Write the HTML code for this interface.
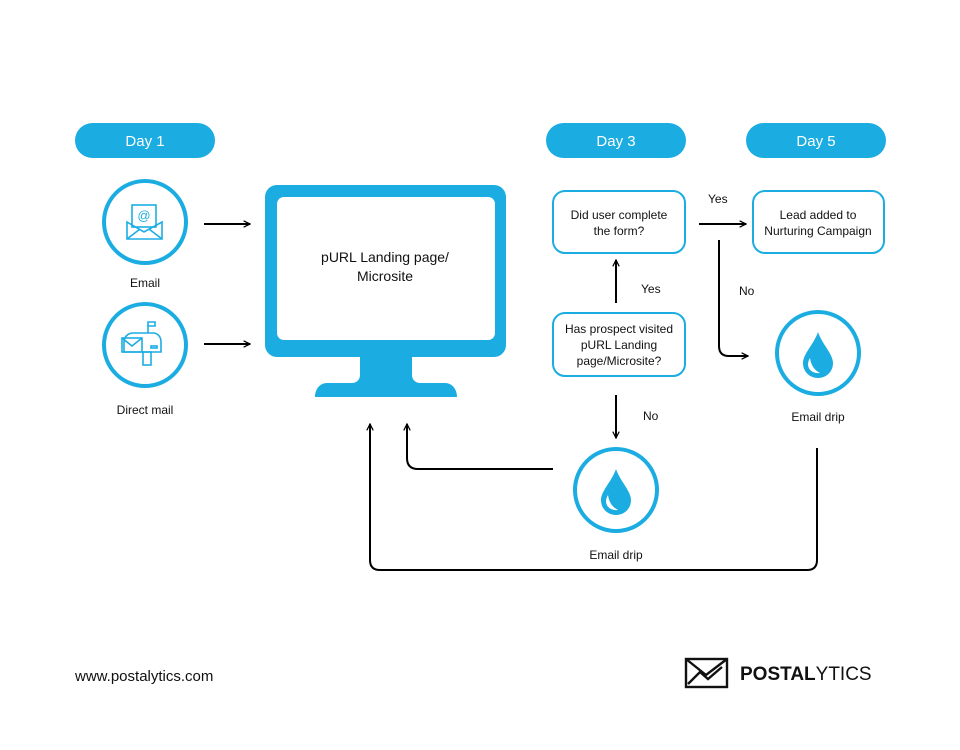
<!DOCTYPE html>
<html><head><meta charset="utf-8"><style>
html,body{margin:0;padding:0;background:#fff}
svg{display:block}
text{font-family:"Liberation Sans",sans-serif;fill:#111}
</style></head><body>
<svg width="960" height="750" viewBox="0 0 960 750" xmlns="http://www.w3.org/2000/svg">
<defs>
<marker id="ah" viewBox="0 0 10 10" refX="9" refY="5" markerWidth="8" markerHeight="8" markerUnits="userSpaceOnUse" orient="auto">
<path d="M1,1 L9,5 L1,9" fill="none" stroke="#000" stroke-width="1.6"/>
</marker>
<g id="drop">
<path d="M0,-22 C4,-10 15,0 15,9 C15,18 8,24 0,24 C-8,24 -15,18 -15,9 C-15,0 -4,-10 0,-22 Z" fill="#1badE2"/>
<path d="M-8,4 C-13,12 -8,20 2,19 C-4,16 -7,11 -8,4 Z" fill="#fff"/>
</g>
</defs>
<g fill="#1badE2">
<rect x="75" y="123" width="140" height="35" rx="17.5"/>
<rect x="546" y="123" width="140" height="35" rx="17.5"/>
<rect x="746" y="123" width="140" height="35" rx="17.5"/>
</g>
<g font-size="15" text-anchor="middle">
<text x="145" y="146" style="fill:#fff">Day 1</text>
<text x="616" y="146" style="fill:#fff">Day 3</text>
<text x="816" y="146" style="fill:#fff">Day 5</text>
</g>
<g fill="none" stroke="#1badE2" stroke-width="4">
<circle cx="145" cy="222" r="41"/>
<circle cx="145" cy="345" r="41"/>
<circle cx="616" cy="490" r="41"/>
<circle cx="818" cy="353" r="41"/>
</g>
<g fill="none" stroke="#1badE2" stroke-width="1.6">
<rect x="132" y="205" width="24" height="22"/>
<path d="M127,222 L127,239 L162,239 L162,222 L144,232 Z"/>
<path d="M127,239 L140,229 M162,239 L149,229"/>
</g>
<text x="144" y="220" font-size="13" text-anchor="middle" style="fill:#1badE2">@</text>
<g fill="none" stroke="#1badE2" stroke-width="1.6">
<path d="M133,333 L153,333 C158,333 161,337 161,342 L161,352 L124,352 L124,342 C124,337 128,333 133,333 Z"/>
<rect x="122" y="338" width="20" height="14"/>
<path d="M122,338 L132,346 L142,338"/>
<path d="M148,333 L148,322 L155,322 L155,326 L148,326"/>
<rect x="151" y="346" width="6" height="2"/>
<rect x="143" y="352" width="8" height="13"/>
</g>
<g font-size="12" text-anchor="middle">
<text x="145" y="287">Email</text>
<text x="145" y="414">Direct mail</text>
<text x="616" y="559">Email drip</text>
<text x="818" y="421">Email drip</text>
</g>
<use href="#drop" x="616" y="491"/>
<use href="#drop" x="818" y="354"/>
<rect x="265" y="185" width="241" height="172" rx="12" fill="#1badE2"/>
<rect x="277" y="197" width="218" height="143" rx="7" fill="#fff"/>
<path d="M360,355 L412,355 L412,375 C412,380 416,383 420,383 L445,383 C452,383 457,389 457,397 L315,397 C315,389 320,383 327,383 L352,383 C356,383 360,380 360,375 Z" fill="#1badE2"/>
<g font-size="14" text-anchor="middle">
<text x="385" y="262">pURL Landing page/</text>
<text x="385" y="281">Microsite</text>
</g>
<g fill="none" stroke="#1badE2" stroke-width="2">
<rect x="553" y="191" width="132" height="62" rx="12"/>
<rect x="553" y="313" width="132" height="63" rx="12"/>
<rect x="753" y="191" width="131" height="62" rx="12"/>
</g>
<g font-size="12" text-anchor="middle">
<text x="619" y="219">Did user complete</text>
<text x="619" y="235">the form?</text>
<text x="619" y="333">Has prospect visited</text>
<text x="619" y="349">pURL Landing</text>
<text x="619" y="365">page/Microsite?</text>
<text x="818" y="219">Lead added to</text>
<text x="818" y="235">Nurturing Campaign</text>
</g>
<g font-size="12">
<text x="641" y="293">Yes</text>
<text x="643" y="420">No</text>
<text x="708" y="203">Yes</text>
<text x="739" y="295">No</text>
</g>
<g fill="none" stroke="#000" stroke-width="2" marker-end="url(#ah)">
<path d="M204,224 L250,224"/>
<path d="M204,344 L250,344"/>
<path d="M616,303 L616,260"/>
<path d="M616,395 L616,438"/>
<path d="M699,224 L746,224"/>
<path d="M719,240 L719,346 Q719,356 729,356 L748,356"/>
<path d="M553,469 L418,469 Q407,469 407,458 L407,424"/>
<path d="M817,448 L817,560 Q817,570 807,570 L380,570 Q370,570 370,560 L370,424"/>
</g>
<text x="75" y="681" font-size="15">www.postalytics.com</text>
<g fill="none" stroke="#111" stroke-width="2.4">
<rect x="686" y="659" width="41" height="28"/>
<path d="M686,659 L706,675 L727,659"/>
<path d="M688,684 L700,672 L708,679 L722,667"/>
</g>
<text x="740" y="680" font-size="19"><tspan font-weight="bold">POSTAL</tspan><tspan>YTICS</tspan></text>
</svg>
</body></html>
